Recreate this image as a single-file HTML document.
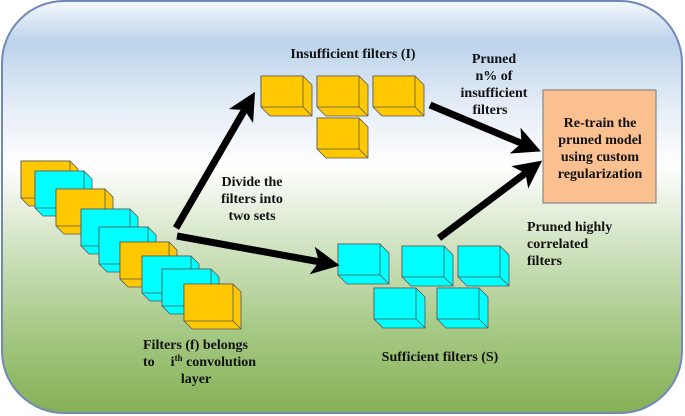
<!DOCTYPE html>
<html><head><meta charset="utf-8"><style>
html,body{margin:0;padding:0;background:#fff;}
svg{display:block;}
svg text{font-family:"Liberation Serif","Times New Roman",serif !important;font-weight:bold;font-size:14px;fill:#111;}
</style></head><body>
<svg width="685" height="416" viewBox="0 0 685 416" xmlns="http://www.w3.org/2000/svg">
<defs>
<linearGradient id="bg" x1="0" y1="0" x2="0" y2="1">
<stop offset="0" stop-color="#f4f8fc"/>
<stop offset="0.1" stop-color="#bcd3eb"/>
<stop offset="0.25" stop-color="#e3ecf6"/>
<stop offset="0.4" stop-color="#ffffff"/>
<stop offset="0.58" stop-color="#d4e5c6"/>
<stop offset="0.8" stop-color="#a6c985"/>
<stop offset="1" stop-color="#84b055"/>
</linearGradient>
<marker id="ah" markerWidth="4" markerHeight="4" refX="2" refY="2" orient="auto" markerUnits="strokeWidth">
<path d="M0,0 L4,2 L0,4 L1,2 z" fill="#000"/>
</marker>
</defs>
<rect x="2" y="1" width="680" height="412" rx="62" ry="62" fill="url(#bg)" stroke="#7189b8" stroke-width="2"/>
<g id="cubes" stroke="#555" stroke-width="0.8" stroke-linejoin="round"></g>
<line x1="176" y1="228" x2="248" y2="104" stroke="#000" stroke-width="7" marker-end="url(#ah)"/>
<line x1="177" y1="236" x2="326" y2="263" stroke="#000" stroke-width="7" marker-end="url(#ah)"/>
<line x1="430" y1="105" x2="528" y2="146" stroke="#000" stroke-width="7" marker-end="url(#ah)"/>
<line x1="439" y1="238" x2="531" y2="169" stroke="#000" stroke-width="7" marker-end="url(#ah)"/>
<rect x="543" y="90" width="113" height="113" fill="#fac090" stroke="#888" stroke-width="1.2"/>
<g font-family="Liberation Serif, Times New Roman, serif" font-weight="bold" font-size="14">
<g text-anchor="middle">
<text x="353" y="58">Insufficient filters (I)</text>
<text x="494" y="63">Pruned</text>
<text x="494" y="80">n% of</text>
<text x="494" y="97">insufficient</text>
<text x="490" y="114">filters</text>
<text x="600" y="127">Re-train the</text>
<text x="600" y="144">pruned model</text>
<text x="600" y="161">using custom</text>
<text x="600" y="178">regularization</text>
<text x="252" y="186">Divide the</text>
<text x="252" y="203">filters into</text>
<text x="252" y="220">two sets</text>
<text x="440" y="361">Sufficient filters (S)</text>
<text x="196" y="383">layer</text>
</g>
<text x="527" y="231">Pruned highly</text>
<text x="527" y="248">correlated</text>
<text x="527" y="265">filters</text>
<text x="143" y="349">Filters (f) belongs</text>
<text x="143" y="366">to<tspan dx="16">i</tspan><tspan font-size="9" dy="-5">th</tspan><tspan dy="5"> convolution</tspan></text>
</g>
</svg>
<script>
(function(){
var g=document.getElementById('cubes');
function cube(x,y,w,h,d,c){
var ns='http://www.w3.org/2000/svg';
var p=document.createElementNS(ns,'polygon');
p.setAttribute('points',[x,y,x+w,y,x+w+d,y+d,x+w+d,y+h+d,x+d,y+h+d,x,y+h].join(' '));
p.setAttribute('fill',c);g.appendChild(p);
var r=document.createElementNS(ns,'rect');
r.setAttribute('x',x);r.setAttribute('y',y);r.setAttribute('width',w);r.setAttribute('height',h);
r.setAttribute('fill',c);g.appendChild(r);
var l=document.createElementNS(ns,'line');
l.setAttribute('x1',x+w);l.setAttribute('y1',y+h);l.setAttribute('x2',x+w+d);l.setAttribute('y2',y+h+d);g.appendChild(l);
}
var O='#ffc800',C='#00ffff';
var s=[[21,161,O],[35,171,C],[56,189,O],[81,209,C],[99,227,C],[120,242,O],[142,256,C],[162,269,C],[184,284,O]];
s.forEach(function(a){cube(a[0],a[1],49,37,8,a[2]);});
[[261,76],[317,76],[373,76],[317,118]].forEach(function(a){cube(a[0],a[1],42,31,9,O);});
[[338,244],[402,246],[458,246],[374,288],[437,288]].forEach(function(a){cube(a[0],a[1],42,31,9,C);});
})();
</script>
</body></html>
